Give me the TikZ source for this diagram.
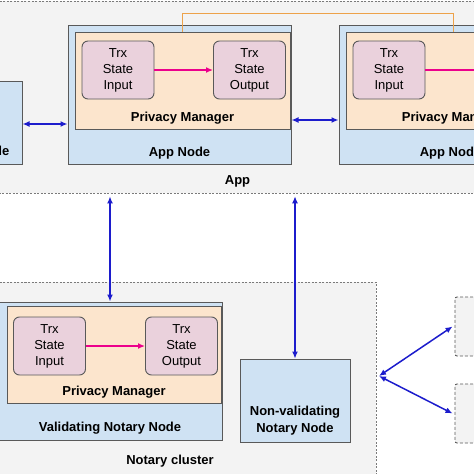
\documentclass[tikz,border=0pt]{standalone}
\usepackage{fontspec}
\setmainfont{Liberation Sans}
\usetikzlibrary{arrows.meta}
\definecolor{regiongray}{HTML}{F3F3F3}
\definecolor{nodeblue}{HTML}{CFE2F3}
\definecolor{pmorange}{HTML}{FCE5CD}
\definecolor{trxpink}{HTML}{EAD1DC}
\definecolor{edgegray}{HTML}{595959}
\definecolor{linkblue}{HTML}{1C1CCC}
\definecolor{syncorange}{HTML}{EDA24A}

\begin{document}
\begin{tikzpicture}[x=1pt, y=-1pt,
    region/.style={draw=edgegray!80, fill=regiongray, dash pattern=on 2pt off 1.5pt, line width=0.8pt, inner sep=0pt},
    hostbox/.style={draw=edgegray, fill=nodeblue, line width=1pt, inner sep=0pt},
    pmbox/.style={draw=edgegray, fill=pmorange, line width=1pt, inner sep=0pt},
    trxbox/.style={draw=edgegray, fill=trxpink, rounded corners=6pt, line width=0.9pt, minimum width=72pt, minimum height=58pt, align=center, font=\fontsize{13}{16}\selectfont, inner sep=0pt},
    extbox/.style={draw=edgegray, fill=regiongray, dash pattern=on 3pt off 2pt, rounded corners=2pt, line width=0.9pt, minimum width=65pt, minimum height=59pt, inner sep=0pt},
    lbl/.style={font=\fontsize{13}{17}\selectfont\bfseries, inner sep=0pt, anchor=base},
    link/.style={{Latex[length=7pt,width=6pt]}-{Latex[length=7pt,width=6pt]}, linkblue, line width=1.5pt},
    flow/.style={-{Latex[length=7pt,width=6pt]}, magenta, line width=1.5pt},
    sync/.style={syncorange, line width=1.2pt}]
    \useasboundingbox (0,0) rectangle (474,474);
    \clip (0,0) rectangle (474,474);

    % Regions
    \node[region, minimum width=485, minimum height=192] (app) at (237.5,97) {};
    \node[lbl] at ([yshift=8.5pt]app.south) {App};
    \node[region, minimum width=381, minimum height=218] (cluster) at (185.5,391) {};
    \node[lbl] at (170,464.5) {Notary cluster};

    % App nodes
    \node[hostbox, minimum width=82, minimum height=83] (appL) at (-19,122.5) {};
    \node[lbl, anchor=base east] at ([xshift=-13pt, yshift=9.5pt]appL.south east) {App Node};
    \foreach \n/\x in {1/179.5, 2/450.5} {
        \node[hostbox, minimum width=223, minimum height=139] (app\n) at (\x,94.5) {};
        \node[lbl] at ([yshift=8.5pt]app\n.south) {App Node};
        \node[pmbox, minimum width=215, minimum height=97] (pm\n) at (\x+3,80.5) {};
        \node[lbl] at ([yshift=8.5pt]pm\n.south) {Privacy Manager};
        \node[trxbox] (in\n) at (\x-61.5,70) {Trx\\State\\Input};
        \node[trxbox] (out\n) at (\x+70,70) {Trx\\State\\Output};
        \draw[flow] (in\n) -- (out\n);
    }
    \draw[sync] (pm1.north) -- ++(0,-18) -| (pm2.north);

    % Notary nodes
    \node[hostbox, minimum width=224, minimum height=138] (val) at (110,371) {};
    \node[lbl] at ([yshift=9.5pt]val.south) {Validating Notary Node};
    \node[pmbox, minimum width=214, minimum height=97] (pm3) at (114,354.5) {};
    \node[lbl] at ([yshift=8.5pt]pm3.south) {Privacy Manager};
    \node[trxbox] (in3) at (49.5,346) {Trx\\State\\Input};
    \node[trxbox] (out3) at (181.5,346) {Trx\\State\\Output};
    \draw[flow] (in3) -- (out3);
    \node[hostbox, minimum width=110, minimum height=83] (nonval) at (295,400.5) {};
    \node[lbl, anchor=center, align=center] at ([yshift=-20pt]nonval.center) {Non-validating\\Notary Node};

    % Outside parties
    \node[extbox] (ext1) at (487.5,326.5) {};
    \node[extbox] (ext2) at (487.5,413.5) {};
    \coordinate (fork) at (379,376);

    % Links
    \draw[link] ([yshift=-1.5pt]appL.east) -- ([yshift=-1.5pt]appL.east -| app1.west);
    \draw[link] ([yshift=-25.5pt]app1.east) -- ([yshift=-25.5pt]app2.west);
    \draw[link] ([yshift=-3pt]app.south -| val.north) -- (val.north);
    \draw[link, line width=1.1pt] ([yshift=-3pt]app.south -| nonval.north) -- (nonval.north);
    \draw[link] (fork) -- ([xshift=-2pt]ext1.west);
    \draw[link] (fork) -- ([xshift=-2pt]ext2.west);
\end{tikzpicture}
\end{document}
